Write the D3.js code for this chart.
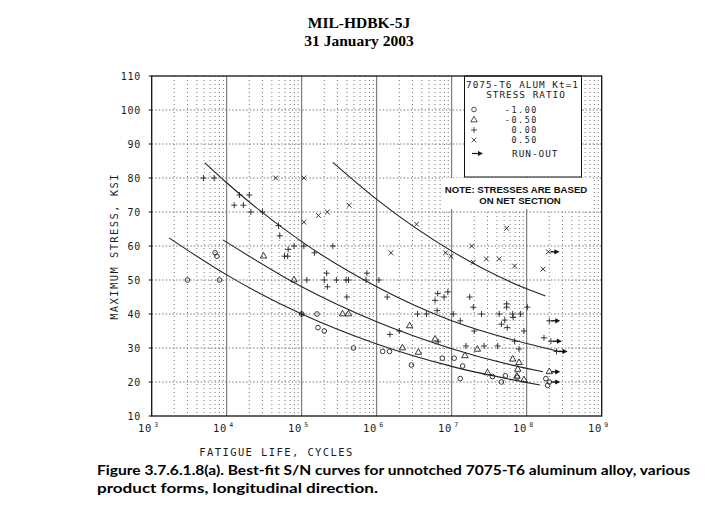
<!DOCTYPE html>
<html>
<head>
<meta charset="utf-8">
<script src="https://cdn.jsdelivr.net/npm/d3@7"></script>
<style>
    body { margin: 0; background: #fff; }
    svg { display: block; }
    .plot { font-family: "DejaVu Sans Mono", monospace; fill: #1a1a1a; }
</style>
</head>
<body>
<script>
// Fatigue data: [cycles, max stress ksi]
// stress ratio -1.00 (circles)
const ratioNeg100 = [
    [3.0e3, 50], [7.0e3, 58], [7.4e3, 57], [8.0e3, 50], [1.0e5, 40], [1.6e5, 40],
    [1.65e5, 36], [2.0e5, 35], [4.9e5, 30], [1.2e6, 29], [1.48e6, 29], [2.9e6, 25],
    [7.5e6, 27], [1.08e7, 27], [1.4e7, 24.7], [1.3e7, 21], [3.5e7, 21.6], [4.6e7, 20],
    [5.2e7, 21.8], [7.5e7, 21.4], [1.8e8, 21], [1.9e8, 19]
];
// stress ratio -0.50 (triangles)
const ratioNeg050 = [
    [3.1e4, 57], [7.9e4, 50], [3.5e5, 40], [4.2e5, 40], [2.2e6, 30], [2.75e6, 36.5],
    [3.6e6, 28.7], [6.0e6, 32.6], [1.5e7, 27.7], [2.2e7, 29.6], [3.0e7, 22.7],
    [6.5e7, 26.7], [7.9e7, 25.7], [7.6e7, 23.7], [7.4e7, 21.7], [9.2e7, 20.6]
];
// stress ratio 0.00 (plus)
const ratio000 = [
    [4.9e3, 80], [6.8e3, 80], [1.48e4, 75], [2.0e4, 75], [1.26e4, 72], [1.67e4, 72],
    [2.1e4, 70], [3.0e4, 70], [4.9e4, 66], [5.1e4, 63], [6.6e4, 59], [7.9e4, 60],
    [5.9e4, 57], [6.5e4, 57], [1.0e5, 40], [1.07e5, 60], [2.6e5, 60], [1.48e5, 58],
    [2.15e5, 52], [1.17e5, 50], [2.0e5, 50], [2.9e5, 50], [3.9e5, 50], [4.2e5, 50],
    [2.2e5, 48], [4.0e5, 45], [7.4e5, 52], [7.2e5, 50], [1.07e6, 50], [1.38e6, 45],
    [1.5e6, 34], [2.0e6, 35], [3.5e6, 40], [4.6e6, 40], [6.5e6, 46], [8.9e6, 46.5],
    [6.0e6, 44], [7.9e6, 45], [6.4e6, 41], [6.6e6, 31.8], [1.05e7, 40], [1.3e7, 38],
    [1.74e7, 45], [1.94e7, 42], [2.5e7, 40], [2.0e7, 35], [4.3e7, 40], [5.4e7, 43],
    [5.4e7, 42], [4.6e7, 37], [5.1e7, 38.2], [5.5e7, 36], [6.5e7, 40], [6.6e7, 39],
    [8.3e7, 40], [1.02e8, 42], [9.2e7, 35], [6.9e7, 32], [1.55e7, 30.6], [2.7e7, 30.6],
    [4.1e7, 30.6], [7.9e7, 29.7], [1.7e8, 33]
];
// stress ratio 0.50 (cross)
const ratio050 = [
    [4.5e4, 80], [1.07e5, 80], [1.07e5, 67], [1.67e5, 69], [2.2e5, 70], [4.3e5, 72],
    [1.55e6, 58], [3.4e6, 66.4], [8.3e6, 58], [9.8e6, 57], [1.85e7, 60], [1.94e7, 55.2],
    [2.9e7, 56.2], [4.3e7, 56.2], [5.4e7, 65.2], [6.9e7, 54.1], [1.65e8, 53.2]
];
// run-outs per ratio
const runNeg100 = [[2.0e8, 20]];
const runNeg050 = [[2.0e8, 23]];
const run000 = [[2.0e8, 38], [2.1e8, 32], [2.5e8, 29]];
const run050 = [[1.95e8, 58.3]];

// best-fit curves
const fitNeg100 = [[1.7e3, 62.4], [1e4, 51.5], [1e5, 40], [1e6, 31.2], [1e7, 24.6], [1.5e8, 19.1]];
const fitNeg050 = [[8.9e3, 61.8], [1e5, 48], [1e6, 37.7], [1e7, 29.8], [1e8, 24], [1.65e8, 23]];
const fit000 = [[5.1e3, 84.5], [1e4, 78.6], [1e5, 61.3], [1e6, 48], [1e7, 38], [1e8, 31.3], [2.8e8, 28.9]];
const fit050 = [[2.6e5, 84.6], [1e6, 73.7], [1e7, 58.5], [1e8, 47.4], [1.78e8, 45.3]];

// axes
const decades = [1e3, 1e4, 1e5, 1e6, 1e7, 1e8, 1e9];
const exponents = ["3", "4", "5", "6", "7", "8", "9"];
const stressTicks = [10, 20, 30, 40, 50, 60, 70, 80, 90, 100, 110];
const stressLabels = ["10", "20", "30", "40", "50", "60", "70", "80", "90", "100", "110"];
const legendLabels = ["-1.00", "-0.50", "0.00", "0.50"];

window.onload = function () {
    draw();
}

function symbolPath(kind) {
    switch (kind) {
        case "circle":
            return d3.symbol(d3.symbolCircle, 17)();
        case "triangle":
            return d3.symbol(d3.symbolTriangle, 18)();
        case "plus":
            return "M-3,0H3M0,-3V3";
        default:
            return "M-2.4,-2.4L2.4,2.4M-2.4,2.4L2.4,-2.4";
    }
}

function draw() {
    let vis = {};
    vis.width = 714;
    vis.height = 516;

    vis.svg = d3.select("body")
        .append("svg")
        .attr("width", vis.width)
        .attr("height", vis.height);

    vis.x = d3.scaleLog().domain([1e3, 1e9]).range([151.7, 601.7]);
    vis.y = d3.scaleLinear().domain([10, 110]).range([416, 76]);

    //Header
    vis.svg.append("text")
        .attr("x", 359).attr("y", 28)
        .attr("text-anchor", "middle")
        .style("font-family", "'Liberation Serif', serif")
        .style("font-weight", "bold")
        .style("font-size", "15.5px")
        .text("MIL-HDBK-5J");
    vis.svg.append("text")
        .attr("x", 359).attr("y", 46)
        .attr("text-anchor", "middle")
        .style("font-family", "'Liberation Serif', serif")
        .style("font-weight", "bold")
        .style("font-size", "15.5px")
        .text("31 January 2003");

    let grid = vis.svg.append("g");

    //minor log grid (dotted)
    let minors = [];
    decades.slice(0, 6).forEach(function (d) {
        for (let m = 2; m <= 9; m++) minors.push(d * m);
    });
    grid.selectAll(".minor")
        .data(minors)
        .enter()
        .append("line")
        .attr("x1", d => vis.x(d)).attr("x2", d => vis.x(d))
        .attr("y1", vis.y(110)).attr("y2", vis.y(10))
        .attr("stroke", "#777")
        .attr("stroke-width", 1)
        .attr("stroke-dasharray", "1,3");

    //horizontal dotted lines
    grid.selectAll(".hline")
        .data(stressTicks.slice(1, -1))
        .enter()
        .append("line")
        .attr("x1", vis.x(1e3)).attr("x2", vis.x(1e9))
        .attr("y1", d => vis.y(d)).attr("y2", d => vis.y(d))
        .attr("stroke", "#777")
        .attr("stroke-width", 1)
        .attr("stroke-dasharray", "1.5,2");

    //decade lines
    grid.selectAll(".decade")
        .data(decades.slice(1, -1))
        .enter()
        .append("line")
        .attr("x1", d => vis.x(d)).attr("x2", d => vis.x(d))
        .attr("y1", vis.y(110)).attr("y2", vis.y(10))
        .attr("stroke", "#666")
        .attr("stroke-width", 1);

    //white patches for legend and note
    vis.svg.append("rect")
        .attr("x", 443).attr("y", 178).attr("width", 148).attr("height", 31)
        .attr("fill", "#fff");
    vis.svg.append("rect")
        .attr("x", 464.5).attr("y", 76).attr("width", 117).attr("height", 101)
        .attr("fill", "#fff")
        .attr("stroke", "#111")
        .attr("stroke-width", 1);

    //frame
    vis.svg.append("rect")
        .attr("x", vis.x(1e3)).attr("y", vis.y(110))
        .attr("width", vis.x(1e9) - vis.x(1e3))
        .attr("height", vis.y(10) - vis.y(110))
        .attr("fill", "none")
        .attr("stroke", "#111")
        .attr("stroke-width", 1.3);

    //y ticks and labels
    let yt = vis.svg.append("g").attr("class", "plot");
    yt.selectAll("line")
        .data(stressTicks)
        .enter()
        .append("line")
        .attr("x1", vis.x(1e3) - 3).attr("x2", vis.x(1e3))
        .attr("y1", d => vis.y(d)).attr("y2", d => vis.y(d))
        .attr("stroke", "#111");
    yt.selectAll("text")
        .data(stressTicks)
        .enter()
        .append("text")
        .attr("x", 141)
        .attr("y", d => vis.y(d) + 3.7)
        .attr("text-anchor", "end")
        .style("font-size", "10px")
        .style("letter-spacing", "0.7px")
        .text((d, i) => stressLabels[i]);

    //x tick labels: 10 with exponent
    let xt = vis.svg.append("g").attr("class", "plot");
    xt.selectAll(".base")
        .data(decades)
        .enter()
        .append("text")
        .attr("x", d => vis.x(d) + 0.5)
        .attr("y", 432)
        .attr("text-anchor", "end")
        .style("font-size", "10.5px")
        .style("letter-spacing", "0.8px")
        .text("10");
    xt.selectAll(".exp")
        .data(decades)
        .enter()
        .append("text")
        .attr("x", d => vis.x(d) + 2.5)
        .attr("y", 427)
        .style("font-size", "6.5px")
        .text((d, i) => exponents[i]);

    //axis titles
    vis.svg.append("text")
        .attr("class", "plot")
        .attr("x", 276.5).attr("y", 456)
        .attr("text-anchor", "middle")
        .style("font-size", "10.5px")
        .style("letter-spacing", "1.4px")
        .text("FATIGUE LIFE, CYCLES");
    vis.svg.append("text")
        .attr("class", "plot")
        .attr("transform", "translate(117.5,246.5) rotate(-90)")
        .attr("text-anchor", "middle")
        .style("font-size", "10.5px")
        .style("letter-spacing", "1.4px")
        .text("MAXIMUM STRESS, KSI");

    //best-fit curves
    const line = d3.line()
        .x(d => vis.x(d[0]))
        .y(d => vis.y(d[1]))
        .curve(d3.curveMonotoneX);
    vis.svg.selectAll(".fit")
        .data([fitNeg100, fitNeg050, fit000, fit050])
        .enter()
        .append("path")
        .attr("d", line)
        .attr("fill", "none")
        .attr("stroke", "#222")
        .attr("stroke-width", 1.1);

    //data points
    const series = [
        {kind: "circle", pts: ratioNeg100, run: runNeg100},
        {kind: "triangle", pts: ratioNeg050, run: runNeg050},
        {kind: "plus", pts: ratio000, run: run000},
        {kind: "cross", pts: ratio050, run: run050}
    ];
    series.forEach(function (s) {
        vis.svg.append("g").selectAll("path")
            .data(s.pts.concat(s.run))
            .enter()
            .append("path")
            .attr("transform", d => "translate(" + vis.x(d[0]) + "," + vis.y(d[1]) + ")")
            .attr("d", symbolPath(s.kind))
            .attr("fill", "none")
            .attr("stroke", "#222")
            .attr("stroke-width", 0.9);

        //run-out arrows
        let arrows = vis.svg.append("g").selectAll("g")
            .data(s.run)
            .enter()
            .append("g")
            .attr("transform", d => "translate(" + vis.x(d[0]) + "," + vis.y(d[1]) + ")");
        arrows.append("line")
            .attr("x1", 2).attr("x2", 7)
            .attr("stroke", "#111").attr("stroke-width", 1.4);
        arrows.append("path")
            .attr("d", "M6,-2.6L11,0L6,2.6Z")
            .attr("fill", "#111");
    });

    //legend
    let lg = vis.svg.append("g").attr("class", "plot")
        .style("font-size", "9.4px")
        .style("letter-spacing", "1px");
    lg.append("text").attr("x", 466).attr("y", 88).text("7075-T6 ALUM Kt=1");
    lg.append("text").attr("x", 526).attr("y", 97.5).attr("text-anchor", "middle").text("STRESS RATIO");
    const legendY = [109.5, 120, 130, 140];
    series.forEach(function (s, i) {
        lg.append("path")
            .attr("transform", "translate(474," + legendY[i] + ")")
            .attr("d", symbolPath(s.kind))
            .attr("fill", "none")
            .attr("stroke", "#222")
            .attr("stroke-width", 0.8);
        lg.append("text")
            .attr("x", 538).attr("y", legendY[i] + 3)
            .attr("text-anchor", "end")
            .style("font-size", "8.4px")
            .style("letter-spacing", "1.6px")
            .text(legendLabels[i]);
    });
    lg.append("line")
        .attr("x1", 472).attr("x2", 479)
        .attr("y1", 153.5).attr("y2", 153.5)
        .attr("stroke", "#111").attr("stroke-width", 1.2);
    lg.append("path").attr("d", "M478,151L483,153.5L478,156Z").attr("fill", "#111");
    lg.append("text").attr("x", 512).attr("y", 156.5).text("RUN-OUT");

    //note
    let note = vis.svg.append("g")
        .style("font-family", "'Liberation Sans', Arial, sans-serif")
        .style("font-weight", "bold")
        .style("font-size", "9.6px")
        .attr("text-anchor", "middle")
        .attr("fill", "#111");
    note.append("text").attr("x", 516).attr("y", 193).text("NOTE: STRESSES ARE BASED");
    note.append("text").attr("x", 520).attr("y", 204).text("ON NET SECTION");

    //caption
    let cap = vis.svg.append("g")
        .style("font-family", "Lato, 'DejaVu Sans', sans-serif")
        .style("font-weight", "bold")
        .style("font-size", "12.5px")
        .attr("fill", "#000");
    cap.append("text")
        .attr("x", 97).attr("y", 475)
        .attr("textLength", 593).attr("lengthAdjust", "spacingAndGlyphs")
        .text("Figure 3.7.6.1.8(a).  Best-fit S/N curves for unnotched 7075-T6 aluminum alloy, various");
    cap.append("text")
        .attr("x", 97).attr("y", 493)
        .attr("textLength", 281).attr("lengthAdjust", "spacingAndGlyphs")
        .text("product forms, longitudinal direction.");
}
</script>
</body>
</html>
